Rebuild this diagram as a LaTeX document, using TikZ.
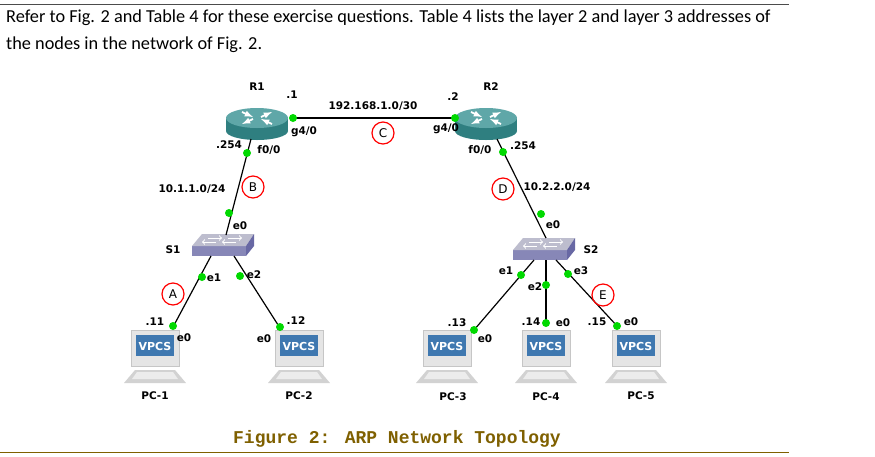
\documentclass[tikz,border=0pt]{standalone}
\usepackage{fontspec}
\setmainfont{Carlito}
\newfontfamily\lbl{DejaVu Sans}
\newfontfamily\capfont{Liberation Mono}
\definecolor{rtop}{HTML}{5FA7A8}
\definecolor{rbody}{HTML}{2F7F80}
\definecolor{scr}{HTML}{3F78B0}
\definecolor{capc}{HTML}{7F6000}
\begin{document}
\begin{tikzpicture}[x=1pt,y=-1pt,
  lab/.style={font=\lbl\bfseries\fontsize{10.5}{12}\selectfont,inner sep=0pt},
  gdot/.style={circle,fill=green!85!black,draw=none,minimum size=8pt,inner sep=0pt},
  tag/.style={circle,draw=red,line width=1.2pt,minimum size=22pt,inner sep=0pt,font=\lbl\fontsize{12}{13}\selectfont},
  link/.style={line width=1.2pt,black},
  anchorpt/.style={inner sep=0pt,minimum size=0pt}]
\useasboundingbox (0,0) rectangle (875,456);
\fill[white] (0,0) rectangle (875,456);
% header
\draw[gray!60!black,line width=0.8pt] (0,4) -- (789,4);
\node[anchor=west,inner sep=0pt,font=\fontsize{18.3}{20}\selectfont] (t1) at (6,18) {Refer to Fig. 2 and Table 4 for these exercise questions. Table 4 lists the layer 2 and layer 3 addresses of};
\node[anchor=west,inner sep=0pt,font=\fontsize{18.3}{20}\selectfont] (t2) at (6,45) {the nodes in the network of Fig. 2.};
\draw[capc,line width=0.8pt] (0,452) -- (789,452);
\node[font=\capfont\bfseries\fontsize{18}{20}\selectfont,text=capc,inner sep=0pt] (cap) at (397,439) {Figure 2: ARP Network Topology};
\def\router#1{%
  \begin{scope}[shift={(#1)}]
  \fill[rbody] (0,9) ellipse[x radius=31,y radius=9];
  \fill[rbody] (-31,-4) rectangle (31,9);
  \fill[rtop] (0,-4) ellipse[x radius=31,y radius=10];
  \draw[white,line width=1.8pt,-latex] (-15,-10) -- (-4,-5);
  \draw[white,line width=1.8pt,-latex] (15,2) -- (4,-3);
  \draw[white,line width=1.8pt,-latex] (-4,-3) -- (-15,2);
  \draw[white,line width=1.8pt,-latex] (4,-5) -- (15,-10);
  \end{scope}}
\def\switch#1{%
  \begin{scope}[shift={(#1)}]
  \fill[blue!25!gray!75] (-30,0) -- (24,0) -- (24,10) -- (-30,10) -- cycle;
  \fill[blue!15!gray!45] (-30,0) -- (-20,-12) -- (32,-12) -- (24,0) -- cycle;
  \fill[blue!25!gray!95] (24,0) -- (24,10) -- (32,0) -- (32,-12) -- cycle;
  \draw[white,line width=1pt,->] (-14,-8) -- (0,-8);
  \draw[white,line width=1pt,->] (6,-8) -- (20,-8);
  \draw[white,line width=1pt,<-] (-20,-4) -- (-6,-4);
  \draw[white,line width=1pt,<-] (0,-4) -- (14,-4);
  \end{scope}}
\def\pc#1{%
  \begin{scope}[shift={(#1)}]
  \fill[gray!20] (-24,-22) rectangle (24,14);
  \draw[gray!45] (-24,-22) rectangle (24,14);
  \fill[scr] (-19,-17) rectangle (19,4);
  \node[text=white,font=\lbl\bfseries\fontsize{11}{12}\selectfont,inner sep=0pt] at (0,-6) {VPCS};
  \fill[gray!35] (-20,18) -- (20,18) -- (31,31) -- (-31,31) -- cycle;
  \fill[gray!15] (-18,20) -- (18,20) -- (23,27) -- (-23,27) -- cycle;
  \end{scope}}
% devices
\router{257,122}
\router{486,122}
\switch{222,246}
\switch{543,250}
\pc{155,352}\pc{299,352}\pc{447,352}\pc{546,352}\pc{636,352}
\node[anchorpt] (R1) at (257,118) {};
\node[anchorpt] (R2) at (486,118) {};
\node[anchorpt] (S1) at (222,243) {};
\node[anchorpt] (S2) at (543,247) {};
% connector end points
\coordinate (r1e) at (290,118); \coordinate (r2w) at (456,118);
\coordinate (r1s) at (251,139); \coordinate (s1n) at (226,235);
\coordinate (r2s) at (497,139); \coordinate (s2n) at (546,238);
\coordinate (s1a) at (211,256); \coordinate (p1) at (173,327);
\coordinate (s1b) at (234,256); \coordinate (p2) at (280,328);
\coordinate (s2a) at (534,260); \coordinate (p3) at (474,330);
\coordinate (s2b) at (546,260); \coordinate (p4) at (546,324);
\coordinate (s2c) at (556,260); \coordinate (p5) at (618,327);
\draw[link] (r1e) -- (r2w);
\draw[link] (r1s) -- (s1n);
\draw[link] (r2s) -- (s2n);
\draw[link] (s1a) -- (p1);
\draw[link] (s1b) -- (p2);
\draw[link] (s2a) -- (p3);
\draw[link] (s2b) -- (p4);
\draw[link] (s2c) -- (p5);
% dots
\node[gdot] at (293,118) {}; \node[gdot] at (455,118) {};
\node[gdot] at (247,153) {}; \node[gdot] at (229,213) {};
\node[gdot] at (503,152) {}; \node[gdot] at (541,214) {};
\node[gdot] at (202,277) {}; \node[gdot] at (240,276) {};
\node[gdot] at (173,326) {}; \node[gdot] at (280,327) {};
\node[gdot] at (521,275) {}; \node[gdot] at (546,285) {}; \node[gdot] at (568,274) {};
\node[gdot] at (474,330) {}; \node[gdot] at (546,323) {}; \node[gdot] at (617,326) {};
% labels
\node[lab] at (257,87) {R1}; \node[lab] at (491,87) {R2};
\node[lab] at (292,95) {.1}; \node[lab] at (373,106) {192.168.1.0/30};
\node[lab] at (453,97) {.2};
\node[lab] at (304,132) {g4/0}; \node[lab] at (446,129) {g4/0};
\node[tag] at (383,133) {C};
\node[lab] at (229,145) {.254}; \node[lab] at (269,150) {f0/0};
\node[lab] at (192,189) {10.1.1.0/24}; \node[tag] at (253,187) {B};
\node[lab] at (240,226) {e0};
\node[lab] at (173,250) {S1};
\node[lab] at (214,278) {e1}; \node[lab] at (254,275) {e2};
\node[tag] at (173,294) {A};
\node[lab] at (155,322) {.11}; \node[lab] at (184,338) {e0};
\node[lab] at (296,321) {.12}; \node[lab] at (264,339) {e0};
\node[lab] at (480,150) {f0/0}; \node[lab] at (523,146) {.254};
\node[tag] at (503,189) {D}; \node[lab] at (557,187) {10.2.2.0/24};
\node[lab] at (553,225) {e0};
\node[lab] at (591,250) {S2};
\node[lab] at (506,271) {e1}; \node[lab] at (535,287) {e2}; \node[lab] at (581,271) {e3};
\node[tag] at (603,295) {E};
\node[lab] at (457,323) {.13}; \node[lab] at (485,339) {e0};
\node[lab] at (531,322) {.14}; \node[lab] at (563,323) {e0};
\node[lab] at (597,322) {.15}; \node[lab] at (631,322) {e0};
\node[lab] at (155,396) {PC-1}; \node[lab] at (299,396) {PC-2};
\node[lab] at (453,397) {PC-3}; \node[lab] at (546,397) {PC-4};
\node[lab] at (641,396) {PC-5};
\end{tikzpicture}
\end{document}
